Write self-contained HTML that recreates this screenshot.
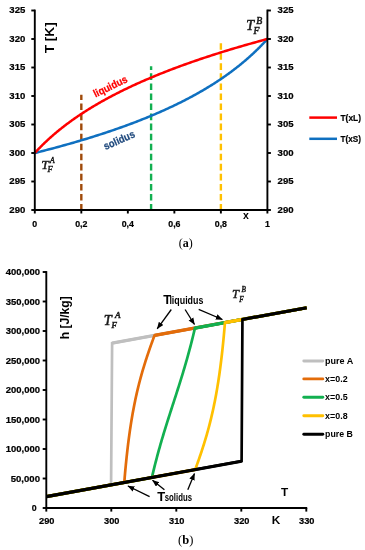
<!DOCTYPE html>
<html><head><meta charset="utf-8"><title>Phase diagram</title>
<style>html,body{margin:0;padding:0;background:#fff}svg{display:block}</style></head>
<body>
<svg width="365" height="550" viewBox="0 0 365 550">
<rect width="365" height="550" fill="#fff"/>
<g fill="none" stroke-linecap="butt">
<line x1="81.32" y1="210.60" x2="81.32" y2="94.86" stroke="#a04a0a" stroke-width="2.4" stroke-dasharray="6.6,3.45"/>
<line x1="151.10" y1="210.60" x2="151.10" y2="66.36" stroke="#12b050" stroke-width="2.4" stroke-dasharray="6.6,3.45"/>
<line x1="220.88" y1="210.60" x2="220.88" y2="41.28" stroke="#ffc000" stroke-width="2.4" stroke-dasharray="6.6,3.45"/>
<path d="M34.80,153.00 L34.80,153.00 L37.09,152.43 L39.36,151.85 L41.61,151.28 L43.84,150.71 L46.06,150.14 L48.25,149.56 L50.43,148.99 L52.59,148.42 L54.74,147.84 L56.86,147.27 L58.97,146.70 L61.07,146.13 L63.14,145.55 L65.20,144.98 L67.24,144.41 L69.27,143.83 L71.28,143.26 L73.27,142.69 L75.25,142.12 L77.22,141.54 L79.16,140.97 L81.09,140.40 L83.01,139.82 L84.91,139.25 L86.80,138.68 L88.67,138.11 L90.52,137.53 L92.37,136.96 L94.19,136.39 L96.00,135.81 L97.80,135.24 L99.59,134.67 L101.36,134.10 L103.11,133.52 L104.85,132.95 L106.58,132.38 L108.30,131.80 L110.00,131.23 L111.68,130.66 L113.36,130.09 L115.02,129.51 L116.67,128.94 L118.30,128.37 L119.93,127.79 L121.54,127.22 L123.13,126.65 L124.72,126.08 L126.29,125.50 L127.85,124.93 L129.40,124.36 L130.94,123.78 L132.46,123.21 L133.97,122.64 L135.47,122.07 L136.96,121.49 L138.44,120.92 L139.90,120.35 L141.36,119.77 L142.80,119.20 L144.23,118.63 L145.65,118.06 L147.06,117.48 L148.46,116.91 L149.85,116.34 L151.23,115.76 L152.60,115.19 L153.95,114.62 L155.30,114.05 L156.63,113.47 L157.96,112.90 L159.28,112.33 L160.58,111.75 L161.88,111.18 L163.16,110.61 L164.44,110.04 L165.70,109.46 L166.96,108.89 L168.21,108.32 L169.44,107.74 L170.67,107.17 L171.89,106.60 L173.10,106.03 L174.30,105.45 L175.49,104.88 L176.67,104.31 L177.84,103.73 L179.01,103.16 L180.16,102.59 L181.31,102.02 L182.45,101.44 L183.58,100.87 L184.70,100.30 L185.81,99.72 L186.91,99.15 L188.01,98.58 L189.10,98.01 L190.18,97.43 L191.25,96.86 L192.31,96.29 L193.36,95.71 L194.41,95.14 L195.45,94.57 L196.48,93.99 L197.51,93.42 L198.52,92.85 L199.53,92.28 L200.53,91.70 L201.53,91.13 L202.51,90.56 L203.49,89.98 L204.46,89.41 L205.43,88.84 L206.39,88.27 L207.34,87.69 L208.28,87.12 L209.22,86.55 L210.14,85.97 L211.07,85.40 L211.98,84.83 L212.89,84.26 L213.79,83.68 L214.69,83.11 L215.58,82.54 L216.46,81.96 L217.34,81.39 L218.21,80.82 L219.07,80.25 L219.93,79.67 L220.78,79.10 L221.62,78.53 L222.46,77.95 L223.29,77.38 L224.12,76.81 L224.94,76.24 L225.75,75.66 L226.56,75.09 L227.36,74.52 L228.16,73.94 L228.95,73.37 L229.74,72.80 L230.52,72.23 L231.29,71.65 L232.06,71.08 L232.82,70.51 L233.58,69.93 L234.33,69.36 L235.08,68.79 L235.82,68.22 L236.55,67.64 L237.28,67.07 L238.01,66.50 L238.73,65.92 L239.44,65.35 L240.15,64.78 L240.86,64.21 L241.56,63.63 L242.25,63.06 L242.94,62.49 L243.62,61.91 L244.30,61.34 L244.98,60.77 L245.65,60.20 L246.31,59.62 L246.98,59.05 L247.63,58.48 L248.28,57.90 L248.93,57.33 L249.57,56.76 L250.21,56.19 L250.84,55.61 L251.47,55.04 L252.10,54.47 L252.72,53.89 L253.33,53.32 L253.94,52.75 L254.55,52.18 L255.15,51.60 L255.75,51.03 L256.34,50.46 L256.93,49.88 L257.52,49.31 L258.10,48.74 L258.68,48.17 L259.25,47.59 L259.82,47.02 L260.39,46.45 L260.95,45.87 L261.51,45.30 L262.06,44.73 L262.61,44.16 L263.16,43.58 L263.70,43.01 L264.24,42.44 L264.78,41.86 L265.31,41.29 L265.84,40.72 L266.36,40.15 L266.88,39.57 L267.40,39.00 L267.40,39.00" stroke="#0f70c0" stroke-width="2.5" stroke-linejoin="round"/>
<path d="M34.80,153.00 L34.80,153.00 L35.32,152.43 L35.85,151.85 L36.38,151.28 L36.92,150.71 L37.45,150.14 L38.00,149.56 L38.55,148.99 L39.10,148.42 L39.65,147.84 L40.21,147.27 L40.78,146.70 L41.35,146.13 L41.92,145.55 L42.50,144.98 L43.08,144.41 L43.67,143.83 L44.26,143.26 L44.85,142.69 L45.45,142.12 L46.06,141.54 L46.67,140.97 L47.28,140.40 L47.90,139.82 L48.53,139.25 L49.15,138.68 L49.79,138.11 L50.43,137.53 L51.07,136.96 L51.72,136.39 L52.37,135.81 L53.03,135.24 L53.69,134.67 L54.36,134.10 L55.03,133.52 L55.71,132.95 L56.39,132.38 L57.08,131.80 L57.77,131.23 L58.47,130.66 L59.17,130.09 L59.88,129.51 L60.60,128.94 L61.32,128.37 L62.04,127.79 L62.77,127.22 L63.51,126.65 L64.25,126.08 L65.00,125.50 L65.75,124.93 L66.51,124.36 L67.27,123.78 L68.04,123.21 L68.82,122.64 L69.60,122.07 L70.38,121.49 L71.18,120.92 L71.97,120.35 L72.78,119.77 L73.59,119.20 L74.40,118.63 L75.23,118.06 L76.05,117.48 L76.89,116.91 L77.73,116.34 L78.57,115.76 L79.43,115.19 L80.29,114.62 L81.15,114.05 L82.02,113.47 L82.90,112.90 L83.79,112.33 L84.68,111.75 L85.57,111.18 L86.48,110.61 L87.39,110.04 L88.30,109.46 L89.23,108.89 L90.16,108.32 L91.10,107.74 L92.04,107.17 L92.99,106.60 L93.95,106.03 L94.91,105.45 L95.88,104.88 L96.86,104.31 L97.85,103.73 L98.84,103.16 L99.84,102.59 L100.85,102.02 L101.86,101.44 L102.88,100.87 L103.91,100.30 L104.94,99.72 L105.99,99.15 L107.04,98.58 L108.10,98.01 L109.16,97.43 L110.24,96.86 L111.32,96.29 L112.41,95.71 L113.50,95.14 L114.61,94.57 L115.72,93.99 L116.84,93.42 L117.97,92.85 L119.10,92.28 L120.25,91.70 L121.40,91.13 L122.56,90.56 L123.73,89.98 L124.90,89.41 L126.09,88.84 L127.28,88.27 L128.48,87.69 L129.69,87.12 L130.91,86.55 L132.14,85.97 L133.37,85.40 L134.62,84.83 L135.87,84.26 L137.13,83.68 L138.40,83.11 L139.68,82.54 L140.97,81.96 L142.26,81.39 L143.57,80.82 L144.89,80.25 L146.21,79.67 L147.54,79.10 L148.89,78.53 L150.24,77.95 L151.60,77.38 L152.97,76.81 L154.35,76.24 L155.74,75.66 L157.14,75.09 L158.55,74.52 L159.97,73.94 L161.40,73.37 L162.83,72.80 L164.28,72.23 L165.74,71.65 L167.21,71.08 L168.69,70.51 L170.18,69.93 L171.67,69.36 L173.18,68.79 L174.70,68.22 L176.23,67.64 L177.77,67.07 L179.32,66.50 L180.88,65.92 L182.45,65.35 L184.04,64.78 L185.63,64.21 L187.23,63.63 L188.85,63.06 L190.47,62.49 L192.11,61.91 L193.76,61.34 L195.42,60.77 L197.09,60.20 L198.77,59.62 L200.46,59.05 L202.16,58.48 L203.88,57.90 L205.61,57.33 L207.34,56.76 L209.10,56.19 L210.86,55.61 L212.63,55.04 L214.42,54.47 L216.22,53.89 L218.02,53.32 L219.85,52.75 L221.68,52.18 L223.53,51.60 L225.39,51.03 L227.26,50.46 L229.14,49.88 L231.04,49.31 L232.95,48.74 L234.87,48.17 L236.80,47.59 L238.75,47.02 L240.71,46.45 L242.68,45.87 L244.67,45.30 L246.67,44.73 L248.68,44.16 L250.70,43.58 L252.74,43.01 L254.80,42.44 L256.86,41.86 L258.94,41.29 L261.03,40.72 L263.14,40.15 L265.26,39.57 L267.40,39.00 L267.40,39.00" stroke="#fe0000" stroke-width="2.5" stroke-linejoin="round"/>
</g>
<g stroke="#000" stroke-width="1.9" fill="none">
<line x1="34.80" y1="9.60" x2="34.80" y2="210.90"/>
<line x1="267.40" y1="9.60" x2="267.40" y2="210.90"/>
<line x1="34.80" y1="210.00" x2="267.40" y2="210.00"/>
<line x1="31.30" y1="210.00" x2="34.80" y2="210.00"/>
<line x1="267.40" y1="210.00" x2="270.90" y2="210.00"/>
<line x1="31.30" y1="181.50" x2="34.80" y2="181.50"/>
<line x1="267.40" y1="181.50" x2="270.90" y2="181.50"/>
<line x1="31.30" y1="153.00" x2="34.80" y2="153.00"/>
<line x1="267.40" y1="153.00" x2="270.90" y2="153.00"/>
<line x1="31.30" y1="124.50" x2="34.80" y2="124.50"/>
<line x1="267.40" y1="124.50" x2="270.90" y2="124.50"/>
<line x1="31.30" y1="96.00" x2="34.80" y2="96.00"/>
<line x1="267.40" y1="96.00" x2="270.90" y2="96.00"/>
<line x1="31.30" y1="67.50" x2="34.80" y2="67.50"/>
<line x1="267.40" y1="67.50" x2="270.90" y2="67.50"/>
<line x1="31.30" y1="39.00" x2="34.80" y2="39.00"/>
<line x1="267.40" y1="39.00" x2="270.90" y2="39.00"/>
<line x1="31.30" y1="10.50" x2="34.80" y2="10.50"/>
<line x1="267.40" y1="10.50" x2="270.90" y2="10.50"/>
<line x1="34.80" y1="210.00" x2="34.80" y2="213.50"/>
<line x1="81.32" y1="210.00" x2="81.32" y2="213.50"/>
<line x1="127.84" y1="210.00" x2="127.84" y2="213.50"/>
<line x1="174.36" y1="210.00" x2="174.36" y2="213.50"/>
<line x1="220.88" y1="210.00" x2="220.88" y2="213.50"/>
<line x1="267.40" y1="210.00" x2="267.40" y2="213.50"/>
</g>
<g font-family="Liberation Sans, sans-serif" font-weight="bold" font-size="8.8" fill="#000" stroke="#000" stroke-width="0.2">
<text x="25.30" y="212.85" text-anchor="end" textLength="16.0" lengthAdjust="spacingAndGlyphs">290</text>
<text x="277.60" y="212.85" textLength="16.0" lengthAdjust="spacingAndGlyphs">290</text>
<text x="25.30" y="184.35" text-anchor="end" textLength="16.0" lengthAdjust="spacingAndGlyphs">295</text>
<text x="277.60" y="184.35" textLength="16.0" lengthAdjust="spacingAndGlyphs">295</text>
<text x="25.30" y="155.85" text-anchor="end" textLength="16.0" lengthAdjust="spacingAndGlyphs">300</text>
<text x="277.60" y="155.85" textLength="16.0" lengthAdjust="spacingAndGlyphs">300</text>
<text x="25.30" y="127.35" text-anchor="end" textLength="16.0" lengthAdjust="spacingAndGlyphs">305</text>
<text x="277.60" y="127.35" textLength="16.0" lengthAdjust="spacingAndGlyphs">305</text>
<text x="25.30" y="98.85" text-anchor="end" textLength="16.0" lengthAdjust="spacingAndGlyphs">310</text>
<text x="277.60" y="98.85" textLength="16.0" lengthAdjust="spacingAndGlyphs">310</text>
<text x="25.30" y="70.35" text-anchor="end" textLength="16.0" lengthAdjust="spacingAndGlyphs">315</text>
<text x="277.60" y="70.35" textLength="16.0" lengthAdjust="spacingAndGlyphs">315</text>
<text x="25.30" y="41.85" text-anchor="end" textLength="16.0" lengthAdjust="spacingAndGlyphs">320</text>
<text x="277.60" y="41.85" textLength="16.0" lengthAdjust="spacingAndGlyphs">320</text>
<text x="25.30" y="13.35" text-anchor="end" textLength="16.0" lengthAdjust="spacingAndGlyphs">325</text>
<text x="277.60" y="13.35" textLength="16.0" lengthAdjust="spacingAndGlyphs">325</text>
<text x="34.80" y="227.00" text-anchor="middle">0</text>
<text x="81.32" y="227.00" text-anchor="middle">0,2</text>
<text x="127.84" y="227.00" text-anchor="middle">0,4</text>
<text x="174.36" y="227.00" text-anchor="middle">0,6</text>
<text x="220.88" y="227.00" text-anchor="middle">0,8</text>
<text x="267.40" y="227.00" text-anchor="middle">1</text>
</g>
<text font-family="Liberation Sans, sans-serif" font-weight="bold" font-size="13.2" transform="translate(53.6,37.8) rotate(-90)" text-anchor="middle" textLength="31" lengthAdjust="spacingAndGlyphs">T [K]</text>
<text font-family="Liberation Sans, sans-serif" font-weight="bold" font-size="10.5" x="246" y="218.9" text-anchor="middle">x</text>
<text font-family="Liberation Sans, sans-serif" font-weight="bold" font-size="10.6" fill="#fe0000" stroke="#fe0000" stroke-width="0.25" transform="translate(111.8,89.6) rotate(-26)" text-anchor="middle" textLength="36.5" lengthAdjust="spacingAndGlyphs">liquidus</text>
<text font-family="Liberation Sans, sans-serif" font-weight="bold" font-size="10.6" fill="#1f497d" stroke="#1f497d" stroke-width="0.25" transform="translate(120.6,143.4) rotate(-24)" text-anchor="middle" textLength="33" lengthAdjust="spacingAndGlyphs">solidus</text>
<line x1="309.3" y1="117.6" x2="337" y2="117.6" stroke="#fe0000" stroke-width="2.5"/>
<line x1="309.3" y1="138.8" x2="337" y2="138.8" stroke="#0f70c0" stroke-width="2.5"/>
<text font-family="Liberation Sans, sans-serif" font-weight="bold" font-size="9.5" stroke="#000" stroke-width="0.2" x="340.5" y="120.9" textLength="20.5" lengthAdjust="spacingAndGlyphs">T(xL)</text>
<text font-family="Liberation Sans, sans-serif" font-weight="bold" font-size="9.5" stroke="#000" stroke-width="0.2" x="340.5" y="142.1" textLength="20.5" lengthAdjust="spacingAndGlyphs">T(xS)</text>
<g font-family="Liberation Serif, serif" font-style="italic" fill="#1a1a1a" stroke="#1a1a1a" stroke-width="0.45"><text font-size="13.5" x="41.20" y="169.10">T</text><text font-size="8.5" x="47.50" y="172.40">F</text><text font-size="7.6" x="50.00" y="162.50">A</text></g>
<g font-family="Liberation Serif, serif" font-style="italic" fill="#1a1a1a" stroke="#1a1a1a" stroke-width="0.55"><text font-size="14.0" x="246.20" y="29.70">T</text><text font-size="9.6" x="253.40" y="33.80">F</text><text font-size="9.8" x="256.20" y="23.60">B</text></g>
<text font-family="Liberation Serif, serif" font-size="12.5" x="178.7" y="246.8" textLength="14" lengthAdjust="spacingAndGlyphs">(<tspan font-weight="bold">a</tspan>)</text>
<g fill="none" stroke-width="2.7" stroke-linejoin="miter">
<path d="M46.30,496.60 L111.08,484.89 L112.12,343.11 L306.60,307.80" stroke="#bfbfbf"/>
<path d="M46.30,496.60 L111.08,484.89" stroke="#bfbfbf" stroke-width="3.2"/>
<path d="M112.12,343.11 L306.60,307.80" stroke="#bfbfbf" stroke-width="3.2"/>
<path d="M46.30,496.60 L124.27,482.50 L124.66,477.87 L125.04,473.45 L125.42,469.23 L125.81,465.20 L126.19,461.33 L126.57,457.63 L126.95,454.07 L127.34,450.65 L127.72,447.36 L128.10,444.19 L128.48,441.14 L128.87,438.19 L129.25,435.34 L129.63,432.58 L130.01,429.92 L130.40,427.33 L130.78,424.83 L131.16,422.40 L131.54,420.04 L131.93,417.75 L132.31,415.52 L132.69,413.35 L133.07,411.23 L133.46,409.17 L133.84,407.17 L134.22,405.21 L134.61,403.29 L134.99,401.42 L135.37,399.59 L135.75,397.80 L136.14,396.05 L136.52,394.34 L136.90,392.66 L137.28,391.01 L137.67,389.39 L138.05,387.81 L138.43,386.25 L138.81,384.72 L139.20,383.21 L139.58,381.73 L139.96,380.28 L140.34,378.85 L140.73,377.44 L141.11,376.05 L141.49,374.67 L141.87,373.32 L142.26,371.99 L142.64,370.68 L143.02,369.38 L143.40,368.09 L143.79,366.83 L144.17,365.57 L144.55,364.33 L144.94,363.11 L145.32,361.90 L145.70,360.70 L146.08,359.51 L146.47,358.33 L146.85,357.16 L147.23,356.01 L147.61,354.86 L148.00,353.72 L148.38,352.59 L148.76,351.47 L149.14,350.36 L149.53,349.25 L149.91,348.16 L150.29,347.06 L150.67,345.98 L151.06,344.90 L151.44,343.83 L151.82,342.76 L152.20,341.70 L152.59,340.64 L152.97,339.59 L153.35,338.54 L153.73,337.49 L154.12,336.45 L154.50,335.41 L306.60,307.80" stroke="#e36c0a"/>
<path d="M46.30,496.60 L124.27,482.50" stroke="#e36c0a" stroke-width="3.2"/>
<path d="M154.50,335.41 L306.60,307.80" stroke="#e36c0a" stroke-width="3.2"/>
<path d="M46.30,496.60 L151.90,477.48 L152.44,475.14 L152.99,472.84 L153.53,470.58 L154.08,468.36 L154.62,466.17 L155.17,464.01 L155.71,461.89 L156.26,459.79 L156.80,457.73 L157.35,455.69 L157.89,453.68 L158.44,451.69 L158.98,449.73 L159.53,447.79 L160.07,445.87 L160.61,443.97 L161.16,442.09 L161.70,440.23 L162.25,438.39 L162.79,436.56 L163.34,434.75 L163.88,432.95 L164.43,431.16 L164.97,429.39 L165.52,427.63 L166.06,425.88 L166.61,424.14 L167.15,422.41 L167.70,420.68 L168.24,418.97 L168.79,417.26 L169.33,415.56 L169.87,413.86 L170.42,412.17 L170.96,410.48 L171.51,408.79 L172.05,407.11 L172.60,405.42 L173.14,403.74 L173.69,402.06 L174.23,400.38 L174.78,398.69 L175.32,397.01 L175.87,395.32 L176.41,393.63 L176.96,391.93 L177.50,390.23 L178.04,388.52 L178.59,386.81 L179.13,385.09 L179.68,383.36 L180.22,381.63 L180.77,379.88 L181.31,378.12 L181.86,376.35 L182.40,374.58 L182.95,372.78 L183.49,370.98 L184.04,369.16 L184.58,367.32 L185.13,365.47 L185.67,363.60 L186.22,361.71 L186.76,359.80 L187.30,357.88 L187.85,355.93 L188.39,353.96 L188.94,351.96 L189.48,349.94 L190.03,347.89 L190.57,345.82 L191.12,343.72 L191.66,341.58 L192.21,339.42 L192.75,337.22 L193.30,334.99 L193.84,332.72 L194.39,330.42 L194.93,328.07 L306.60,307.80" stroke="#12b050"/>
<path d="M46.30,496.60 L151.90,477.48" stroke="#12b050" stroke-width="3.2"/>
<path d="M194.93,328.07 L306.60,307.80" stroke="#12b050" stroke-width="3.2"/>
<path d="M46.30,496.60 L195.19,469.63 L195.57,468.59 L195.94,467.55 L196.32,466.51 L196.70,465.47 L197.07,464.42 L197.45,463.36 L197.83,462.30 L198.20,461.24 L198.58,460.16 L198.96,459.09 L199.34,458.00 L199.71,456.91 L200.09,455.81 L200.47,454.70 L200.84,453.59 L201.22,452.47 L201.60,451.34 L201.97,450.19 L202.35,449.04 L202.73,447.88 L203.10,446.71 L203.48,445.53 L203.86,444.34 L204.23,443.13 L204.61,441.91 L204.99,440.68 L205.36,439.43 L205.74,438.17 L206.12,436.90 L206.50,435.61 L206.87,434.30 L207.25,432.97 L207.63,431.63 L208.00,430.27 L208.38,428.89 L208.76,427.49 L209.13,426.06 L209.51,424.62 L209.89,423.15 L210.26,421.66 L210.64,420.14 L211.02,418.60 L211.39,417.03 L211.77,415.43 L212.15,413.80 L212.52,412.14 L212.90,410.44 L213.28,408.72 L213.65,406.95 L214.03,405.15 L214.41,403.30 L214.79,401.42 L215.16,399.49 L215.54,397.52 L215.92,395.50 L216.29,393.43 L216.67,391.30 L217.05,389.12 L217.42,386.88 L217.80,384.58 L218.18,382.21 L218.55,379.78 L218.93,377.27 L219.31,374.68 L219.68,372.02 L220.06,369.26 L220.44,366.42 L220.81,363.48 L221.19,360.44 L221.57,357.28 L221.95,354.02 L222.32,350.62 L222.70,347.10 L223.08,343.43 L223.45,339.62 L223.83,335.64 L224.21,331.49 L224.58,327.16 L224.96,322.62 L306.60,307.80" stroke="#ffc000"/>
<path d="M46.30,496.60 L195.19,469.63" stroke="#ffc000" stroke-width="3.2"/>
<path d="M224.96,322.62 L306.60,307.80" stroke="#ffc000" stroke-width="3.2"/>
<path d="M46.30,496.60 L241.60,461.20 L242.44,319.45 L306.60,307.80" stroke="#000"/>
<path d="M46.30,496.60 L241.60,461.20" stroke="#000" stroke-width="3.2"/>
<path d="M242.44,319.45 L306.60,307.80" stroke="#000" stroke-width="3.2"/>
</g>
<g stroke="#000" stroke-width="1.9" fill="none">
<line x1="46.30" y1="271.10" x2="46.30" y2="508.90"/>
<line x1="46.30" y1="508.00" x2="307.20" y2="508.00"/>
<line x1="42.70" y1="508.00" x2="46.30" y2="508.00"/>
<line x1="42.70" y1="478.50" x2="46.30" y2="478.50"/>
<line x1="42.70" y1="449.00" x2="46.30" y2="449.00"/>
<line x1="42.70" y1="419.50" x2="46.30" y2="419.50"/>
<line x1="42.70" y1="390.00" x2="46.30" y2="390.00"/>
<line x1="42.70" y1="360.50" x2="46.30" y2="360.50"/>
<line x1="42.70" y1="331.00" x2="46.30" y2="331.00"/>
<line x1="42.70" y1="301.50" x2="46.30" y2="301.50"/>
<line x1="42.70" y1="272.00" x2="46.30" y2="272.00"/>
<line x1="46.30" y1="508.00" x2="46.30" y2="511.60"/>
<line x1="111.30" y1="508.00" x2="111.30" y2="511.60"/>
<line x1="176.30" y1="508.00" x2="176.30" y2="511.60"/>
<line x1="241.30" y1="508.00" x2="241.30" y2="511.60"/>
<line x1="306.30" y1="508.00" x2="306.30" y2="511.60"/>
</g>
<g font-family="Liberation Sans, sans-serif" font-weight="bold" font-size="8.7" fill="#000" stroke="#000" stroke-width="0.2">
<text x="36.60" y="511.10" text-anchor="end" textLength="4.9" lengthAdjust="spacingAndGlyphs">0</text>
<text x="40.00" y="481.60" text-anchor="end" textLength="29.3" lengthAdjust="spacingAndGlyphs">50,000</text>
<text x="40.00" y="452.10" text-anchor="end" textLength="34.2" lengthAdjust="spacingAndGlyphs">100,000</text>
<text x="40.00" y="422.60" text-anchor="end" textLength="34.2" lengthAdjust="spacingAndGlyphs">150,000</text>
<text x="40.00" y="393.10" text-anchor="end" textLength="34.2" lengthAdjust="spacingAndGlyphs">200,000</text>
<text x="40.00" y="363.60" text-anchor="end" textLength="34.2" lengthAdjust="spacingAndGlyphs">250,000</text>
<text x="40.00" y="334.10" text-anchor="end" textLength="34.2" lengthAdjust="spacingAndGlyphs">300,000</text>
<text x="40.00" y="304.60" text-anchor="end" textLength="34.2" lengthAdjust="spacingAndGlyphs">350,000</text>
<text x="40.00" y="275.10" text-anchor="end" textLength="34.2" lengthAdjust="spacingAndGlyphs">400,000</text>
<text x="46.70" y="524.40" text-anchor="middle" textLength="15.4" lengthAdjust="spacingAndGlyphs">290</text>
<text x="111.70" y="524.40" text-anchor="middle" textLength="15.4" lengthAdjust="spacingAndGlyphs">300</text>
<text x="176.70" y="524.40" text-anchor="middle" textLength="15.4" lengthAdjust="spacingAndGlyphs">310</text>
<text x="241.70" y="524.40" text-anchor="middle" textLength="15.4" lengthAdjust="spacingAndGlyphs">320</text>
<text x="306.70" y="524.40" text-anchor="middle" textLength="15.4" lengthAdjust="spacingAndGlyphs">330</text>
</g>
<text font-family="Liberation Sans, sans-serif" font-weight="bold" font-size="12" transform="translate(68.6,317.8) rotate(-90)" text-anchor="middle" textLength="43" lengthAdjust="spacingAndGlyphs">h [J/kg]</text>
<text font-family="Liberation Sans, sans-serif" font-weight="bold" font-size="11.8" x="284.6" y="496.3" text-anchor="middle">T</text>
<text font-family="Liberation Sans, sans-serif" font-weight="bold" font-size="11.8" x="276.0" y="523.6" text-anchor="middle">K</text>
<text font-family="Liberation Sans, sans-serif" font-weight="bold" font-size="13" x="163.3" y="304.3">T</text>
<text font-family="Liberation Sans, sans-serif" font-weight="bold" font-size="10.3" x="169.4" y="304.3" textLength="34" lengthAdjust="spacingAndGlyphs">liquidus</text>
<text font-family="Liberation Sans, sans-serif" font-weight="bold" font-size="13" x="157.3" y="500.75">T</text>
<text font-family="Liberation Sans, sans-serif" font-weight="bold" font-size="10.3" x="164.8" y="500.75" textLength="27.2" lengthAdjust="spacingAndGlyphs">solidus</text>
<g font-family="Liberation Serif, serif" font-style="italic" fill="#1a1a1a" stroke="#1a1a1a" stroke-width="0.55"><text font-size="14.3" x="103.70" y="324.60">T</text><text font-size="8.8" x="111.60" y="328.30">F</text><text font-size="9.0" x="115.00" y="317.60">A</text></g>
<g font-family="Liberation Serif, serif" font-style="italic" fill="#1a1a1a" stroke="#1a1a1a" stroke-width="0.45"><text font-size="12.5" x="231.90" y="298.00">T</text><text font-size="7.2" x="239.30" y="301.80">F</text><text font-size="7.2" x="241.60" y="292.00">B</text></g>
<defs><marker id="ah" markerWidth="8" markerHeight="7" refX="6.6" refY="3" orient="auto" markerUnits="userSpaceOnUse"><path d="M0,0.2 L7,3 L0,5.8 Z" fill="#000"/></marker></defs>
<line x1="171.3" y1="309.5" x2="157.2" y2="328.8" stroke="#000" stroke-width="1.3" marker-end="url(#ah)"/>
<line x1="185.1" y1="309.5" x2="194.5" y2="324.5" stroke="#000" stroke-width="1.3" marker-end="url(#ah)"/>
<line x1="198.7" y1="309.3" x2="222.4" y2="319.5" stroke="#000" stroke-width="1.3" marker-end="url(#ah)"/>
<line x1="149.6" y1="496.6" x2="127.9" y2="486.0" stroke="#000" stroke-width="1.3" marker-end="url(#ah)"/>
<line x1="164.4" y1="489.7" x2="152.5" y2="480.3" stroke="#000" stroke-width="1.3" marker-end="url(#ah)"/>
<line x1="187.8" y1="489.7" x2="194.5" y2="473.6" stroke="#000" stroke-width="1.3" marker-end="url(#ah)"/>
<line x1="303.8" y1="361.0" x2="322.8" y2="361.0" stroke="#bfbfbf" stroke-width="2.9" stroke-linecap="round"/>
<text font-family="Liberation Sans, sans-serif" font-weight="bold" font-size="9.2" x="325.1" y="364.1" textLength="28.2" lengthAdjust="spacingAndGlyphs">pure A</text>
<line x1="303.8" y1="378.9" x2="322.8" y2="378.9" stroke="#e36c0a" stroke-width="2.9" stroke-linecap="round"/>
<text font-family="Liberation Sans, sans-serif" font-weight="bold" font-size="9.2" x="325.1" y="382.0" textLength="22.5" lengthAdjust="spacingAndGlyphs">x=0.2</text>
<line x1="303.8" y1="397.3" x2="322.8" y2="397.3" stroke="#12b050" stroke-width="2.9" stroke-linecap="round"/>
<text font-family="Liberation Sans, sans-serif" font-weight="bold" font-size="9.2" x="325.1" y="400.4" textLength="22.5" lengthAdjust="spacingAndGlyphs">x=0.5</text>
<line x1="303.8" y1="415.7" x2="322.8" y2="415.7" stroke="#ffc000" stroke-width="2.9" stroke-linecap="round"/>
<text font-family="Liberation Sans, sans-serif" font-weight="bold" font-size="9.2" x="325.1" y="418.8" textLength="22.5" lengthAdjust="spacingAndGlyphs">x=0.8</text>
<line x1="303.8" y1="434.3" x2="322.8" y2="434.3" stroke="#000" stroke-width="2.9" stroke-linecap="round"/>
<text font-family="Liberation Sans, sans-serif" font-weight="bold" font-size="9.2" x="325.1" y="437.4" textLength="27.8" lengthAdjust="spacingAndGlyphs">pure B</text>
<text font-family="Liberation Serif, serif" font-size="12.5" x="178.0" y="543.5" textLength="15.3" lengthAdjust="spacingAndGlyphs">(<tspan font-weight="bold">b</tspan>)</text>
</svg>
</body></html>
